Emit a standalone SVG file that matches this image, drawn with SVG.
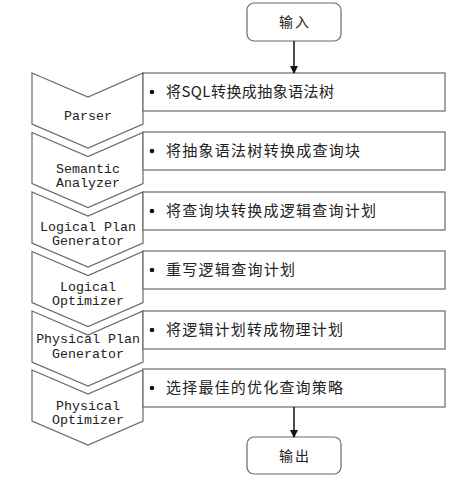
<svg xmlns="http://www.w3.org/2000/svg" width="474" height="479" viewBox="0 0 474 479">
<style>
.shape{fill:#fff;stroke:#6a6a6a;stroke-width:1.2}
.lbl{font-family:"Liberation Mono","DejaVu Sans Mono",monospace;font-size:13.3px;fill:#222;text-anchor:middle}
.cn{font-family:"Noto Sans CJK SC","Liberation Serif",serif;font-size:15px;fill:#222}
.term{font-family:"Noto Sans CJK SC",sans-serif;font-size:14px;fill:#222;text-anchor:middle;letter-spacing:2px}
.conn{stroke:#111;stroke-width:1.5;fill:none}
</style>
<defs>
<marker id="ah" markerWidth="8" markerHeight="8" refX="7" refY="4" orient="auto" markerUnits="userSpaceOnUse">
<path d="M0,0 L8,4 L0,8 Z" fill="#111"/>
</marker>
</defs>
<rect width="474" height="479" fill="#fff"/>

<g id="input">
<rect class="shape" x="247" y="3" width="94" height="38" rx="7"/>
<text class="term" x="295" y="27">输入</text>
</g>

<g id="parser">
<polygon class="shape" points="32,73 88,97 143,73 143,124 88,148 32,124"/>
<text class="lbl" x="88" y="119.5">Parser</text>
<rect class="shape" x="143" y="73" width="302" height="38"/>
<circle cx="152" cy="92" r="2.3" fill="#111"/>
<text class="cn" x="166" y="97" textLength="168" lengthAdjust="spacing">将SQL转换成抽象语法树</text>
</g>

<g id="semantic">
<polygon class="shape" points="32,132.5 88,156.5 143,132.5 143,183.5 88,207.5 32,183.5"/>
<text class="lbl" x="88" y="173">Semantic</text>
<text class="lbl" x="88" y="187">Analyzer</text>
<rect class="shape" x="143" y="132" width="302" height="38"/>
<circle cx="152" cy="151" r="2.3" fill="#111"/>
<text class="cn" x="166" y="156" textLength="194" lengthAdjust="spacing">将抽象语法树转换成查询块</text>
</g>

<g id="logical-plan">
<polygon class="shape" points="32,192 88,216 143,192 143,243 88,267 32,243"/>
<text class="lbl" x="88" y="231">Logical Plan</text>
<text class="lbl" x="88" y="245">Generator</text>
<rect class="shape" x="143" y="192" width="302" height="38"/>
<circle cx="152" cy="211" r="2.3" fill="#111"/>
<text class="cn" x="166" y="216" textLength="210" lengthAdjust="spacing">将查询块转换成逻辑查询计划</text>
</g>

<g id="logical-opt">
<polygon class="shape" points="32,251.5 88,275.5 143,251.5 143,302.5 88,326.5 32,302.5"/>
<text class="lbl" x="88" y="291">Logical</text>
<text class="lbl" x="88" y="305">Optimizer</text>
<rect class="shape" x="143" y="251" width="302" height="38"/>
<circle cx="152" cy="270" r="2.3" fill="#111"/>
<text class="cn" x="166" y="275" textLength="129" lengthAdjust="spacing">重写逻辑查询计划</text>
</g>

<g id="physical-plan">
<polygon class="shape" points="32,311 88,335 143,311 143,362 88,386 32,362"/>
<text class="lbl" x="88" y="343">Physical Plan</text>
<text class="lbl" x="88" y="357.5">Generator</text>
<rect class="shape" x="143" y="311" width="302" height="38"/>
<circle cx="152" cy="330" r="2.3" fill="#111"/>
<text class="cn" x="166" y="335" textLength="177" lengthAdjust="spacing">将逻辑计划转成物理计划</text>
</g>

<g id="physical-opt">
<polygon class="shape" points="32,370 88,394 143,370 143,421 88,445 32,421"/>
<text class="lbl" x="88" y="410">Physical</text>
<text class="lbl" x="88" y="424">Optimizer</text>
<rect class="shape" x="143" y="369" width="302" height="38"/>
<circle cx="152" cy="388" r="2.3" fill="#111"/>
<text class="cn" x="166" y="393" textLength="177" lengthAdjust="spacing">选择最佳的优化查询策略</text>
</g>

<g id="output">
<rect class="shape" x="247" y="437" width="94" height="37" rx="7"/>
<text class="term" x="295" y="461">输出</text>
</g>

<g id="connectors">
<line class="conn" x1="294" y1="41" x2="294" y2="73" marker-end="url(#ah)"/>
<line class="conn" x1="294" y1="407" x2="294" y2="437" marker-end="url(#ah)"/>
</g>
</svg>
